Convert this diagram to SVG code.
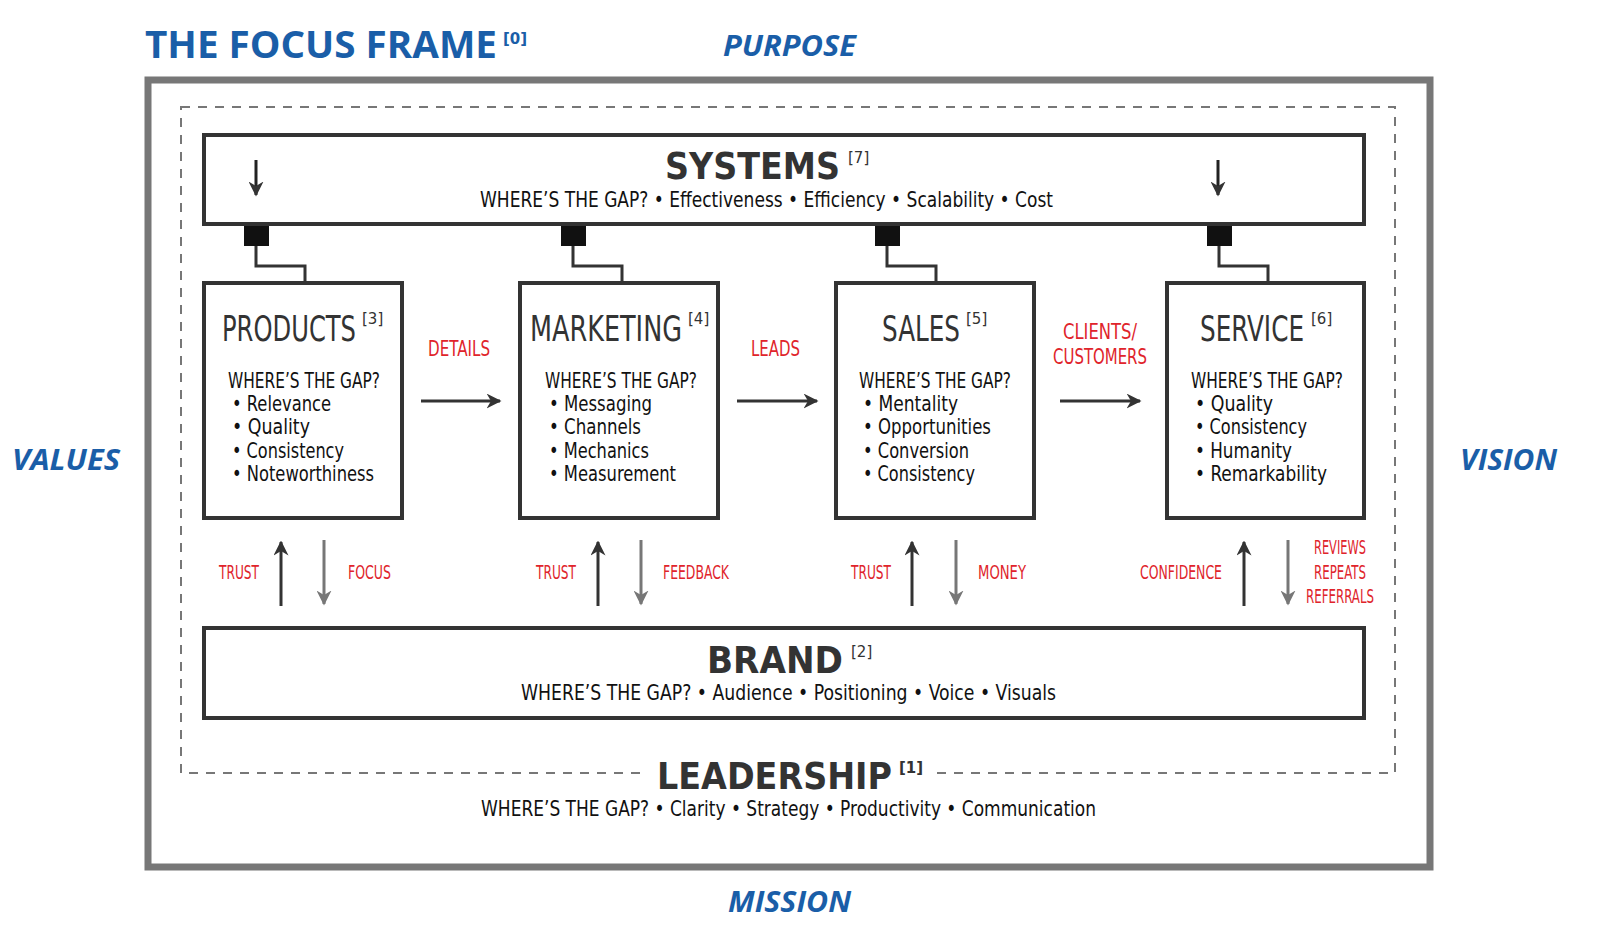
<svg xmlns="http://www.w3.org/2000/svg" width="1600" height="950" viewBox="0 0 1600 950">
<defs>
<style>
.box{fill:#fff;stroke:#333;stroke-width:4}
.c{font-family:"DejaVu Sans Condensed","DejaVu Sans",sans-serif;font-stretch:condensed;fill:#111}
.h{font-family:"DejaVu Sans",sans-serif;font-weight:bold;fill:#333}
.big{font-family:"DejaVu Sans Condensed","DejaVu Sans",sans-serif;fill:#333;font-size:36px}
.blue{font-family:"Open Sans","DejaVu Sans",sans-serif;font-weight:bold;font-style:italic;fill:#1a5ea8;font-size:29px}
.red{font-family:"DejaVu Sans Condensed","DejaVu Sans",sans-serif;fill:#e0242b}
.sup{font-family:"DejaVu Sans",sans-serif;font-size:15px;fill:#333}
.li{font-size:21px}
.conn{fill:none;stroke:#333;stroke-width:3}
</style>
<marker id="ad" viewBox="0 0 10 10" refX="9" refY="5" markerWidth="5" markerHeight="5" orient="auto"><path d="M0,0L10,5L0,10L3,5Z" fill="#333"/></marker>
<marker id="ag" viewBox="0 0 10 10" refX="9" refY="5" markerWidth="5" markerHeight="5" orient="auto"><path d="M0,0L10,5L0,10L3,5Z" fill="#777"/></marker>
</defs>
<rect width="1600" height="950" fill="#fff"/>
<text x="145" y="58" textLength="352" lengthAdjust="spacingAndGlyphs" font-family="Open Sans,DejaVu Sans,sans-serif" font-weight="bold" font-size="37" fill="#1a5ea8">THE FOCUS FRAME</text>
<text x="503" y="44" font-family="DejaVu Sans,sans-serif" font-weight="bold" font-size="15" fill="#1a5ea8">[0]</text>
<text class="blue" x="723" y="56" textLength="133" lengthAdjust="spacingAndGlyphs">PURPOSE</text>
<text class="blue" x="728" y="912" textLength="123" lengthAdjust="spacingAndGlyphs">MISSION</text>
<text class="blue" x="12" y="470" textLength="108" lengthAdjust="spacingAndGlyphs">VALUES</text>
<text class="blue" x="1460" y="470" textLength="97" lengthAdjust="spacingAndGlyphs">VISION</text>
<rect x="148" y="80" width="1282" height="787" fill="none" stroke="#777" stroke-width="7"/>
<rect x="181" y="107" width="1214" height="666" fill="none" stroke="#777" stroke-width="2" stroke-dasharray="9 8"/>
<g id="connectors">
<path class="conn" d="M256,246V266H305V283M573,246V266H622V283M887,246V266H936V283M1219,246V266H1268V283"/>
<rect x="244" y="226" width="25" height="20" fill="#111"/><rect x="561" y="226" width="25" height="20" fill="#111"/><rect x="875" y="226" width="25" height="20" fill="#111"/><rect x="1207" y="226" width="25" height="20" fill="#111"/>
<g stroke="#333" stroke-width="3" marker-end="url(#ad)"><line x1="421" y1="401" x2="500" y2="401"/><line x1="737" y1="401" x2="817" y2="401"/><line x1="1060" y1="401" x2="1140" y2="401"/>
<line x1="281" y1="606" x2="281" y2="542"/><line x1="598" y1="606" x2="598" y2="542"/><line x1="912" y1="606" x2="912" y2="542"/><line x1="1244" y1="606" x2="1244" y2="542"/></g>
<g stroke="#777" stroke-width="3" marker-end="url(#ag)"><line x1="324" y1="540" x2="324" y2="604"/><line x1="641" y1="540" x2="641" y2="604"/><line x1="956" y1="540" x2="956" y2="604"/><line x1="1288" y1="540" x2="1288" y2="604"/></g>
<g class="red" font-size="21"><text x="428" y="356" textLength="62" lengthAdjust="spacingAndGlyphs">DETAILS</text><text x="751" y="356" textLength="49" lengthAdjust="spacingAndGlyphs">LEADS</text><text x="1063" y="339" textLength="74" lengthAdjust="spacingAndGlyphs">CLIENTS/</text><text x="1053" y="364" textLength="94" lengthAdjust="spacingAndGlyphs">CUSTOMERS</text></g>
<g class="red" font-size="19"><text x="219" y="579" textLength="40" lengthAdjust="spacingAndGlyphs">TRUST</text><text x="348" y="579" textLength="43" lengthAdjust="spacingAndGlyphs">FOCUS</text><text x="536" y="579" textLength="40" lengthAdjust="spacingAndGlyphs">TRUST</text><text x="663" y="579" textLength="66" lengthAdjust="spacingAndGlyphs">FEEDBACK</text><text x="851" y="579" textLength="40" lengthAdjust="spacingAndGlyphs">TRUST</text><text x="978" y="579" textLength="48" lengthAdjust="spacingAndGlyphs">MONEY</text><text x="1140" y="579" textLength="82" lengthAdjust="spacingAndGlyphs">CONFIDENCE</text>
<text x="1314" y="554" textLength="52" lengthAdjust="spacingAndGlyphs">REVIEWS</text><text x="1314" y="579" textLength="52" lengthAdjust="spacingAndGlyphs">REPEATS</text><text x="1306" y="603" textLength="68" lengthAdjust="spacingAndGlyphs">REFERRALS</text></g>
</g>
<g id="systems"><rect class="box" x="204" y="135" width="1160" height="89"/>
<line x1="256" y1="160" x2="256" y2="195" stroke="#222" stroke-width="3" marker-end="url(#ad)"/>
<line x1="1218" y1="160" x2="1218" y2="195" stroke="#222" stroke-width="3" marker-end="url(#ad)"/>
<text class="h" x="665" y="179" font-size="37" textLength="175" lengthAdjust="spacingAndGlyphs">SYSTEMS</text><text class="sup" x="848" y="163">[7]</text>
<text class="c li" x="480" y="207" textLength="573" lengthAdjust="spacingAndGlyphs">WHERE’S THE GAP?  •  Effectiveness  •  Efficiency  •  Scalability  •  Cost</text></g>
<g id="products"><rect class="box" x="204" y="283" width="198" height="235"/>
<text class="big" x="222" y="341" textLength="134" lengthAdjust="spacingAndGlyphs">PRODUCTS</text><text class="sup" x="362" y="324">[3]</text>
<g class="c li"><text x="228" y="388" textLength="152" lengthAdjust="spacingAndGlyphs">WHERE’S THE GAP?</text><text x="232" y="411" textLength="99" lengthAdjust="spacingAndGlyphs">•  Relevance</text><text x="232" y="434" textLength="78" lengthAdjust="spacingAndGlyphs">•  Quality</text><text x="232" y="458" textLength="112" lengthAdjust="spacingAndGlyphs">•  Consistency</text><text x="232" y="481" textLength="142" lengthAdjust="spacingAndGlyphs">•  Noteworthiness</text></g></g>
<g id="marketing"><rect class="box" x="520" y="283" width="198" height="235"/>
<text class="big" x="530" y="341" textLength="152" lengthAdjust="spacingAndGlyphs">MARKETING</text><text class="sup" x="688" y="324">[4]</text>
<g class="c li"><text x="545" y="388" textLength="152" lengthAdjust="spacingAndGlyphs">WHERE’S THE GAP?</text><text x="549" y="411" textLength="103" lengthAdjust="spacingAndGlyphs">•  Messaging</text><text x="549" y="434" textLength="92" lengthAdjust="spacingAndGlyphs">•  Channels</text><text x="549" y="458" textLength="100" lengthAdjust="spacingAndGlyphs">•  Mechanics</text><text x="549" y="481" textLength="127" lengthAdjust="spacingAndGlyphs">•  Measurement</text></g></g>
<g id="sales"><rect class="box" x="836" y="283" width="198" height="235"/>
<text class="big" x="882" y="341" textLength="78" lengthAdjust="spacingAndGlyphs">SALES</text><text class="sup" x="966" y="324">[5]</text>
<g class="c li"><text x="859" y="388" textLength="152" lengthAdjust="spacingAndGlyphs">WHERE’S THE GAP?</text><text x="863" y="411" textLength="95" lengthAdjust="spacingAndGlyphs">•  Mentality</text><text x="863" y="434" textLength="128" lengthAdjust="spacingAndGlyphs">•  Opportunities</text><text x="863" y="458" textLength="106" lengthAdjust="spacingAndGlyphs">•  Conversion</text><text x="863" y="481" textLength="112" lengthAdjust="spacingAndGlyphs">•  Consistency</text></g></g>
<g id="service"><rect class="box" x="1167" y="283" width="197" height="235"/>
<text class="big" x="1200" y="341" textLength="104" lengthAdjust="spacingAndGlyphs">SERVICE</text><text class="sup" x="1311" y="324">[6]</text>
<g class="c li"><text x="1191" y="388" textLength="152" lengthAdjust="spacingAndGlyphs">WHERE’S THE GAP?</text><text x="1195" y="411" textLength="78" lengthAdjust="spacingAndGlyphs">•  Quality</text><text x="1195" y="434" textLength="112" lengthAdjust="spacingAndGlyphs">•  Consistency</text><text x="1195" y="458" textLength="97" lengthAdjust="spacingAndGlyphs">•  Humanity</text><text x="1195" y="481" textLength="132" lengthAdjust="spacingAndGlyphs">•  Remarkability</text></g></g>
<g id="brand"><rect class="box" x="204" y="628" width="1160" height="90"/>
<text class="h" x="707" y="673" font-size="37" textLength="136" lengthAdjust="spacingAndGlyphs">BRAND</text><text class="sup" x="851" y="657">[2]</text>
<text class="c li" x="521" y="700" textLength="535" lengthAdjust="spacingAndGlyphs">WHERE’S THE GAP?  •  Audience  •  Positioning  •  Voice  •  Visuals</text></g>
<g id="leadership"><rect x="640" y="760" width="290" height="30" fill="#fff"/>
<text class="h" x="657" y="789" font-size="37" fill="#111" textLength="235" lengthAdjust="spacingAndGlyphs">LEADERSHIP</text><text class="sup" x="899" y="773" font-weight="bold" fill="#111">[1]</text>
<text class="c li" x="481" y="816" textLength="615" lengthAdjust="spacingAndGlyphs">WHERE’S THE GAP?  •  Clarity  •  Strategy  •  Productivity  •  Communication</text></g>
</svg>
